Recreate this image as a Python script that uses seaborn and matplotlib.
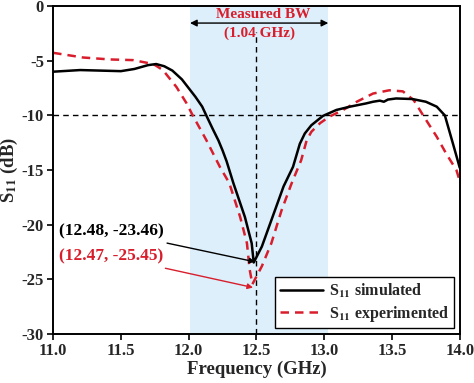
import matplotlib
matplotlib.use('Agg')
import matplotlib.pyplot as plt
import seaborn as sns
import numpy as np

# Data
sim_freq = [11.00, 11.20, 11.35, 11.50, 11.60, 11.70, 11.76, 11.82, 11.88, 11.95,
            12.00, 12.05, 12.10, 12.13, 12.18, 12.22, 12.25, 12.28, 12.33, 12.415,
            12.465, 12.48, 12.54, 12.636, 12.70, 12.77, 12.82, 12.857, 12.905, 12.99,
            13.09, 13.19, 13.31, 13.36, 13.41, 13.44, 13.47, 13.53, 13.65, 13.75,
            13.83, 13.89, 13.95, 14.00]
sim_s11 = [-6.00, -5.85, -5.90, -5.95, -5.75, -5.40, -5.30, -5.50, -5.90, -6.70,
           -7.50, -8.30, -9.20, -10.00, -11.30, -12.30, -13.20, -14.20, -16.20, -19.30,
           -21.70, -23.46, -22.00, -18.70, -16.50, -14.70, -12.60, -11.65, -10.90, -10.05,
           -9.50, -9.20, -8.90, -8.75, -8.65, -8.75, -8.55, -8.45, -8.50, -8.75,
           -9.20, -10.00, -12.60, -14.80]

exp_freq = [11.00, 11.22, 11.42, 11.59, 11.74, 11.81, 11.91, 11.985, 12.03, 12.13,
            12.23, 12.30, 12.38, 12.43, 12.45, 12.47, 12.54, 12.61, 12.685, 12.76,
            12.83, 12.87, 12.905, 12.97, 13.04, 13.14, 13.24, 13.36, 13.48, 13.58,
            13.66, 13.73, 13.83, 13.90, 13.975, 14.00]
exp_s11 = [-4.27, -4.70, -4.88, -4.94, -5.30, -5.85, -7.40, -8.90, -10.00, -12.25,
           -14.70, -16.20, -19.30, -21.70, -24.10, -25.45, -23.80, -21.70, -18.70, -16.20,
           -14.10, -12.30, -11.50, -10.70, -10.10, -9.50, -8.75, -8.00, -7.70, -7.80,
           -8.60, -10.00, -11.95, -13.50, -15.00, -16.00]

bw_lo, bw_hi = 12.01, 13.03
red = '#d81e2c'

sns.set_style('ticks')
plt.rcParams['font.family'] = ['Liberation Serif', 'DejaVu Serif']
plt.rcParams['font.weight'] = 'bold'
plt.rcParams['mathtext.fontset'] = 'stix'
plt.rcParams['mathtext.default'] = 'bf'
plt.rcParams['axes.unicode_minus'] = False

fig, ax = plt.subplots(figsize=(4.74, 3.83), dpi=100)
fig.subplots_adjust(left=0.112, right=0.970, top=0.984, bottom=0.128)

ax.axvspan(bw_lo, bw_hi, color='#ddeffa', zorder=0, lw=0)
ax.axhline(-10, color='black', lw=1, ls=(0, (4, 3)), zorder=1)
ax.vlines(12.5, -30, -2.4, color='black', lw=1, ls=(0, (4, 3)), zorder=1)

sns.lineplot(x=sim_freq, y=sim_s11, color='black', lw=1.8,
             label='S$_{11}$ simulated', ax=ax, zorder=3)
sns.lineplot(x=exp_freq, y=exp_s11, color=red, lw=1.8, linestyle=(0, (3.4, 2.4)),
             label='S$_{11}$ experimented', ax=ax, zorder=2)

# bandwidth arrow and labels
ax.annotate('', xy=(bw_lo, -1.55), xytext=(bw_hi, -1.55),
            arrowprops=dict(arrowstyle='<|-|>', color='black', lw=1,
                            mutation_scale=10, shrinkA=0, shrinkB=0))
ax.text(12.55, -0.75, 'Measured BW', color=red, fontsize=11, fontweight='bold',
        ha='center', va='center')
ax.text(12.52, -2.5, '(1.04 GHz)', color=red, fontsize=11, fontweight='bold',
        ha='center', va='center')

# minimum point annotations
ax.annotate('(12.48, -23.46)', xy=(12.49, -23.4), xytext=(11.43, -20.6),
            fontsize=12.5, fontweight='bold', color='black', ha='center', va='center',
            arrowprops=dict(arrowstyle='-|>', color='black', lw=1, mutation_scale=8,
                            shrinkA=2, shrinkB=0))
ax.annotate('(12.47, -25.45)', xy=(12.475, -25.75), xytext=(11.43, -22.9),
            fontsize=12.5, fontweight='bold', color=red, ha='center', va='center',
            arrowprops=dict(arrowstyle='-|>', color=red, lw=1, mutation_scale=8,
                            shrinkA=2, shrinkB=0))

ax.set_xlim(11, 14)
ax.set_ylim(-30, 0)
ax.set_xticks(np.arange(11, 14.01, 0.5))
ax.set_xticklabels(['%.1f' % t for t in np.arange(11, 14.01, 0.5)])
ax.set_yticks(np.arange(-30, 1, 5))
ax.tick_params(direction='out', length=4, width=1.2, labelsize=12, color='black', pad=2.5)
for lab in ax.get_xticklabels() + ax.get_yticklabels():
    lab.set_fontweight('bold')
for sp in ax.spines.values():
    sp.set_visible(True)
    sp.set_linewidth(1.4)
    sp.set_color('black')

ax.set_xlabel('Frequency (GHz)', fontsize=13.5, fontweight='bold', labelpad=1)
ax.set_ylabel('S$_{11}$ (dB)', fontsize=13.5, fontweight='bold', labelpad=1)

leg = ax.legend(loc='lower right', fontsize=11.5, handlelength=2.7, frameon=True,
                fancybox=False, edgecolor='black', framealpha=1, borderaxespad=0.35,
                borderpad=0.3, labelspacing=0.2, handletextpad=0.4)
leg.get_frame().set_linewidth(1)
for t in leg.get_texts():
    t.set_fontweight('bold')

fig.savefig('out.png', dpi=100)
